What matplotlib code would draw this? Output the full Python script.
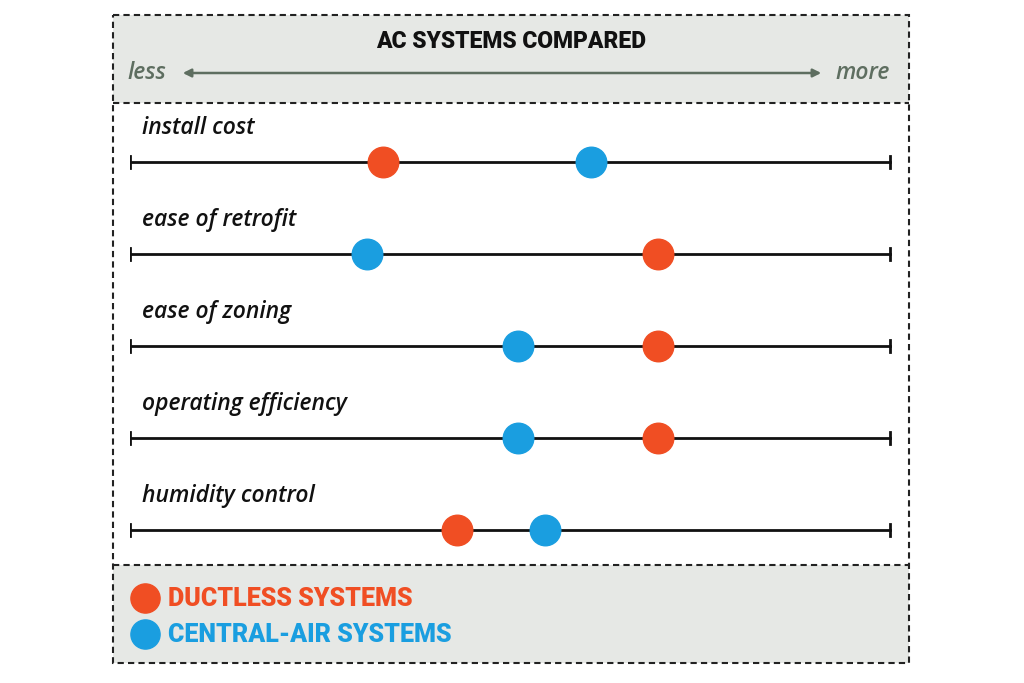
import matplotlib
matplotlib.use("Agg")
import matplotlib.pyplot as plt
from matplotlib.patches import Rectangle

categories = ["install cost", "ease of retrofit", "ease of zoning", "operating efficiency", "humidity control"]
ductless = [0.332, 0.693, 0.693, 0.693, 0.429]
central = [0.605, 0.311, 0.509, 0.509, 0.545]
series_names = ["DUCTLESS SYSTEMS", "CENTRAL-AIR SYSTEMS"]
title = "AC SYSTEMS COMPARED"

ORANGE = "#f04e23"
BLUE = "#1a9ee0"
GRAY = "#e6e8e5"
GREEN = "#5e6e60"

fig = plt.figure(figsize=(10.24, 6.83), dpi=100)
bg = fig.add_axes([0, 0, 1, 1])
bg.set_xlim(0, 1024); bg.set_ylim(683, 0); bg.axis("off")
dash = dict(fill=False, ls=(0, (3, 2)), lw=1.5, ec="#222222")
bg.add_patch(Rectangle((113, 15), 796, 88, fc=GRAY, ec="none"))
bg.add_patch(Rectangle((113, 565), 796, 98, fc=GRAY, ec="none"))
bg.add_patch(Rectangle((113, 15), 796, 648, **dash))
bg.plot([113, 909], [103, 103], ls=(0, (3, 2)), lw=1.5, color="#222222")
bg.plot([113, 909], [565, 565], ls=(0, (3, 2)), lw=1.5, color="#222222")
bg.text(511, 42, title, ha="center", va="center", fontsize=16.5, fontweight="heavy", family="Roboto", color="#111111")
bg.text(127, 73, "less", ha="left", va="center", fontsize=16.5, style="italic", fontweight="semibold", family="Open Sans", color=GREEN)
bg.text(890, 73, "more", ha="right", va="center", fontsize=16.5, style="italic", fontweight="semibold", family="Open Sans", color=GREEN)
bg.annotate("", xy=(180, 73), xytext=(824, 73), arrowprops=dict(arrowstyle="<|-|>", color=GREEN, lw=1.8, mutation_scale=12))
bg.plot([145], [598], "o", ms=21, color=ORANGE)
bg.plot([145], [634], "o", ms=21, color=BLUE)
bg.text(168, 599, series_names[0], ha="left", va="center", fontsize=18, fontweight="heavy", family="Roboto", color=ORANGE)
bg.text(168, 635, series_names[1], ha="left", va="center", fontsize=18, fontweight="heavy", family="Roboto", color=BLUE)

top, bot = 116, 576
ax = fig.add_axes([130/1024, (683-bot)/683, 762/1024, (bot-top)/683])
ax.set_xlim(0, 1); ax.set_ylim(len(categories)-0.5, -0.5); ax.axis("off")
for i, c in enumerate(categories):
    ax.plot([0, 0.997], [i, i], color="#111111", lw=2, zorder=1)
    ax.plot([0, 0], [i-0.07, i+0.07], color="#111111", lw=2)
    ax.plot([0.997, 0.997], [i-0.07, i+0.07], color="#111111", lw=2)
    ax.text(0.016, i-0.37, c, ha="left", va="center", fontsize=16.5, style="italic", fontweight="semibold", family="Open Sans", color="#111111")
ys = list(range(len(categories)))
ax.plot(ductless, ys, "o", ms=22, color=ORANGE, ls="none", zorder=3)
ax.plot(central, ys, "o", ms=22, color=BLUE, ls="none", zorder=3)
fig.savefig("out.png", dpi=100)
